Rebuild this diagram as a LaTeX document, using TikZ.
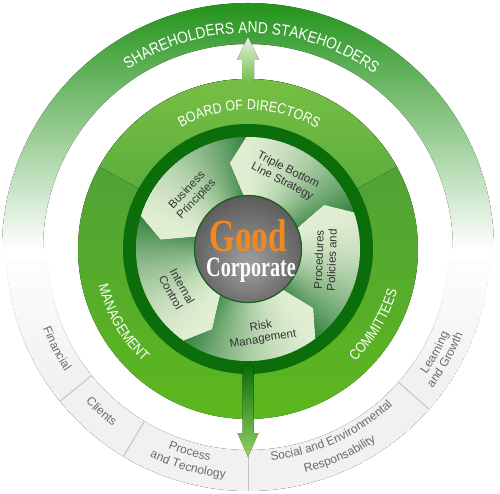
\documentclass[tikz,border=0pt]{standalone}
\usepackage{fontspec}
\setmainfont{Liberation Sans}
\newfontfamily\ringfont[FakeStretch=0.86]{Liberation Sans}
\newfontfamily\goodfont[FakeStretch=0.72]{Liberation Serif}
\usetikzlibrary{decorations.text,fadings}

\definecolor{ringgreen}{HTML}{23931A}
\definecolor{ringmid}{HTML}{8DC85C}
\definecolor{sidetop}{HTML}{4E9A40}
\definecolor{sidemid}{HTML}{53A13C}
\definecolor{sidebot}{HTML}{5CB81C}
\definecolor{boardtop}{HTML}{7CC345}
\definecolor{boardbot}{HTML}{4FA43A}
\definecolor{darkring}{HTML}{0B6E0B}
\definecolor{pieceLight}{HTML}{E3EFD5}
\definecolor{pieceDark}{HTML}{30803A}
\definecolor{ballA}{HTML}{A0A0A0}
\definecolor{ballB}{HTML}{616161}
\definecolor{ballC}{HTML}{1E1E1E}
\definecolor{ballEdge}{HTML}{1D5E1D}
\definecolor{grayA}{HTML}{F1F1F1}
\definecolor{grayB}{HTML}{D3D3D3}
\definecolor{sepgray}{HTML}{C4C4C4}
\definecolor{labgray}{HTML}{6B6B6B}
\definecolor{pietext}{HTML}{333333}
\definecolor{goodorange}{HTML}{F5871F}
\definecolor{arrowpale}{HTML}{E8F3DE}
\definecolor{arrowgreen}{HTML}{70BB45}
\definecolor{arrowmid}{HTML}{3D9C2A}
\definecolor{arrowtip}{HTML}{93D160}

\pgfdeclareradialshading{ballshade}{\pgfpoint{0bp}{-8bp}}{color(0bp)=(ballA); color(26bp)=(ballB); color(50bp)=(ballC)}
\pgfdeclareradialshading{grayshade}{\pgfpoint{0bp}{0bp}}{color(0bp)=(grayA); color(41bp)=(grayA); color(50bp)=(grayB)}
\tikzfading[name=fadeup, top color=transparent!0, bottom color=transparent!100]

\newcommand\bigring{\ringfont\fontsize{16}{18}\selectfont}
\newcommand\midring{\ringfont\fontsize{14.5}{18}\selectfont}
\newcommand\sidering{\ringfont\fontsize{14.5}{18}\selectfont}
\newcommand\graysize{\fontsize{12}{14}\selectfont}

\tikzset{ringtxt/.style={decorate, decoration={text along path, text={#1}, text align=center, text color=white}}}
\tikzset{graytxt/.style={decorate, decoration={text along path, text={|\graysize|#1}, text align=center, text color=labgray}}}

\begin{document}
\begin{tikzpicture}[x=1pt, y=1pt]

\tikzstyle{plab}=[font=\fontsize{11.5}{13}\selectfont, text=pietext, align=center, inner sep=0pt]

\fill[white] (-248,-245) rectangle (252,249);
\useasboundingbox (-248,-245) rectangle (252,249);

\fill[top color=ringgreen, middle color=ringmid, bottom color=white] (0:205) arc[start angle=0, end angle=180, radius=205] -- (180:246) arc[start angle=180, end angle=0, radius=246] -- cycle;

\begin{scope}
  \clip (183:201) arc[start angle=183, end angle=357, radius=201] -- (357:242) arc[start angle=357, end angle=183, radius=242] -- cycle;
  \fill[shading=grayshade] (0,0) circle (242);
\end{scope}
\foreach \a in {219,239,270,318.5}
  \draw[sepgray, line width=1pt] (\a:201) -- (\a:242);
\fill[white, path fading=fadeup] (180:199) arc[start angle=180, end angle=214, radius=199] -- (214:244) arc[start angle=214, end angle=180, radius=244] -- cycle;
\fill[white, path fading=fadeup] (0:199) arc[start angle=0, end angle=-34, radius=199] -- (-34:244) arc[start angle=-34, end angle=0, radius=244] -- cycle;

\fill[top color=sidetop, middle color=sidemid, bottom color=sidebot] (0,0) circle (170);
\fill[top color=boardtop, bottom color=boardbot] (0,0) -- (29:170) arc[start angle=29, end angle=151, radius=170] -- cycle;
\fill[darkring] (0,0) circle (125);

\foreach \ang in {91,163,235,307,19} {
  \begin{scope}
    \clip (\ang:112) arc[start angle=\ang, end angle=\ang-72, radius=112] -- (\ang-61:88) -- (\ang-68:54) arc[start angle=\ang-68, end angle=\ang+4, radius=54] -- (\ang+11:88) -- cycle;
    \foreach \s in {0,...,42} {
      \pgfmathtruncatemacro\pc{100-100*(\s/42)*(\s/42)}
      \fill[pieceLight!\pc!pieceDark] (0,0) -- (\ang+12-2*\s:130) -- (\ang+9-2*\s:130) -- cycle;
    }
  \end{scope}
}

\node[circle, minimum size=107pt, inner sep=0pt, shading=ballshade, draw=ballEdge, line width=1.2pt] (ball) at (0,0) {};
\node[font=\goodfont\bfseries\fontsize{46}{46}\selectfont, text=goodorange, anchor=base] (good) at (0,-3) {Good};
\node[font=\goodfont\bfseries\fontsize{28}{28}\selectfont, text=white, anchor=base] (corp) at (3,-28) {Corporate};

\node[plab, rotate=46] (busi) at (136:78) {Business\\Principles};
\node[plab, rotate=-27] (tbl) at (63:82) {Triple Bottom\\Line Strategy};
\node[plab, rotate=88] (proc) at (-8:78) {Procedures\\Policies and};
\node[plab, rotate=9.5] (risk) at (279.5:85) {Risk\\Management};
\node[plab, rotate=-61] (intc) at (209.5:82) {Internal\\Control};

\fill[top color=arrowpale, bottom color=arrowgreen] (-6,166) -- (-6,189) -- (-11,189) -- (0,212) -- (11,189) -- (6,189) -- (6,166) -- cycle;
\fill[top color=darkring, middle color=arrowmid, bottom color=arrowtip] (-5.5,-117) -- (-5.5,-184) -- (-10.5,-184) -- (0,-208) -- (10.5,-184) -- (5.5,-184) -- (5.5,-117) -- cycle;

\path[ringtxt={|\bigring|SHAREHOLDERS AND STAKEHOLDERS}] (139:216) arc[start angle=139, end angle=39, radius=216];
\path[ringtxt={|\midring|BOARD OF DIRECTORS}] (139.5:139) arc[start angle=139.5, end angle=39.5, radius=139];
\path[ringtxt={|\sidering|MANAGEMENT}] (170.5:154) arc[start angle=170.5, end angle=250.5, radius=154];
\path[ringtxt={|\sidering|COMMITTEES}] (289:155) arc[start angle=289, end angle=369, radius=155];

\path[graytxt={Financial}] (177.5:220) arc[start angle=177.5, end angle=237.5, radius=220];
\path[graytxt={Clients}] (198:223) arc[start angle=198, end angle=258, radius=223];
\path[graytxt={Process}] (224:215) arc[start angle=224, end angle=284, radius=215];
\path[graytxt={and Tecnology}] (224.5:230) arc[start angle=224.5, end angle=284.5, radius=230];
\path[graytxt={Social and Environmental}] (264.5:213) arc[start angle=264.5, end angle=324.5, radius=213];
\path[graytxt={Responsability}] (264:231) arc[start angle=264, end angle=324, radius=231];
\path[graytxt={Learning}] (301:218) arc[start angle=301, end angle=361, radius=218];
\path[graytxt={and Growth}] (300.7:231) arc[start angle=300.7, end angle=360.7, radius=231];

\end{tikzpicture}
\end{document}
